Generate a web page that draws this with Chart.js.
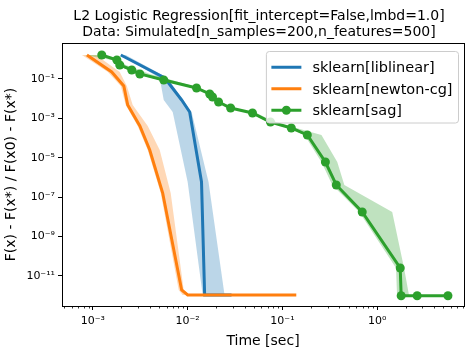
<!DOCTYPE html>
<html><head><meta charset="utf-8">
<script src="https://cdn.jsdelivr.net/npm/chart.js@4/dist/chart.umd.min.js"></script>
<style>html,body{margin:0;padding:0;background:#fff}#wrap{width:474px;height:353px;position:relative}</style>
</head><body><div id="wrap"><canvas id="c" width="474" height="353"></canvas></div>
<script>
const titleLines = ['L2 Logistic Regression[fit_intercept=False,lmbd=1.0]', 'Data: Simulated[n_samples=200,n_features=500]'];
const xAxisLabel = 'Time [sec]';
const yAxisLabel = 'F(x) - F(x*) / F(x0) - F(x*)';
const seriesNames = ['sklearn[liblinear]', 'sklearn[newton-cg]', 'sklearn[sag]'];
const seriesColors = ['#1f77b4', '#ff7f0e', '#2ca02c'];
const bandColors = ['rgba(31,119,180,0.3)', 'rgba(255,127,14,0.3)', 'rgba(44,160,44,0.3)'];

// liblinear
const liblinearTime     = [1.97e-3, 5.73e-3, 8.64e-3, 1.05e-2, 1.40e-2, 1.51e-2, 2.9e-2];
const liblinearValue    = [1.65, 0.112, 8.6e-3, 2.1e-3, 5.9e-7, 1.1e-12, 1.1e-12];
const liblinearTimeLow  = [1.97e-3, 5.07e-3, 5.59e-3, 6.95e-3, 1.0e-2, 1.44e-2, 2.2e-2];
const liblinearTimeHigh = [2.22e-3, 6.16e-3, 8.86e-3, 1.10e-2, 1.66e-2, 2.45e-2, 3.2e-2];

// newton-cg
const newtonTime     = [8.65e-4, 1.58e-3, 2.12e-3, 2.33e-3, 3.13e-3, 3.98e-3, 5.45e-3, 8.64e-3, 1.0e-2, 0.140];
const newtonValue    = [1.65, 0.226, 0.0441, 4.78e-3, 4.11e-4, 2.49e-5, 1.63e-7, 1.95e-12, 1.1e-12, 1.1e-12];
const newtonTimeLow  = [7.66e-4, 1.44e-3, 1.97e-3, 2.22e-3, 2.97e-3, 3.79e-3, 5.20e-3, 8.04e-3, 8.86e-3, 0.140];
const newtonTimeHigh = [1.08e-3, 1.92e-3, 2.28e-3, 2.63e-3, 3.79e-3, 5.07e-3, 6.62e-3, 9.08e-3, 1.05e-2, 0.140];

// sag
const sagTime     = [1.24e-3, 1.79e-3, 1.92e-3, 2.57e-3, 3.13e-3, 5.59e-3, 1.24e-2, 1.71e-2, 1.83e-2, 2.12e-2, 2.84e-2, 4.83e-2, 7.48e-2, 0.124, 0.183, 0.284, 0.370, 0.695, 1.75, 1.79, 2.64, 5.58];
const sagValue    = [1.65, 0.921, 0.514, 0.287, 0.180, 0.0889, 0.0349, 0.0173, 0.0122, 6.79e-3, 3.37e-3, 1.88e-3, 6.56e-4, 3.26e-4, 1.44e-4, 6.12e-6, 4.16e-7, 1.77e-8, 2.55e-11, 1.0e-12, 1.0e-12, 1.0e-12];
const sagTimeLow  = [8.04e-4, 1.58e-3, 1.83e-3, 2.33e-3, 2.84e-3, 5.07e-3, 1.13e-2, 1.58e-2, 1.75e-2, 2.02e-2, 2.70e-2, 4.49e-2, 6.95e-2, 0.113, 0.171, 0.258, 0.336, 0.647, 1.58, 1.62, 2.64, 5.58];
const sagTimeHigh = [1.31e-3, 1.92e-3, 2.22e-3, 3.13e-3, 3.98e-3, 6.79e-3, 1.34e-2, 1.79e-2, 1.97e-2, 2.28e-2, 3.05e-2, 5.32e-2, 8.24e-2, 0.140, 0.258, 0.379, 0.450, 1.44, 1.92, 2.17, 2.64, 5.58];

const xTickValues = [1e-3, 1e-2, 1e-1, 1];
const yTickValues = [1e-11, 1e-9, 1e-7, 1e-5, 1e-3, 1e-1];
const xRange = [4.72e-4, 8.24];
const yRange = [3.0e-13, 6.7];

const SUP = {'-':'\u207b','0':'\u2070','1':'\u00b9','2':'\u00b2','3':'\u00b3','4':'\u2074','5':'\u2075','6':'\u2076','7':'\u2077','8':'\u2078','9':'\u2079'};
function sciLabel(v) {
  const e = Math.round(Math.log10(v));
  return '10' + String(e).split('').map(c => SUP[c]).join('');
}
function linePoints(t, v) { return t.map((x, i) => ({x: x, y: v[i]})); }
function bandPolygon(lo, hi, v) {
  const pts = [];
  for (let i = 0; i < v.length; i++) pts.push({x: lo[i], y: v[i]});
  for (let i = v.length - 1; i >= 0; i--) pts.push({x: hi[i], y: v[i]});
  return pts;
}

const FONT = 'DejaVu Sans';
const series = [
  {t: liblinearTime, v: liblinearValue, lo: liblinearTimeLow, hi: liblinearTimeHigh, marker: 0},
  {t: newtonTime, v: newtonValue, lo: newtonTimeLow, hi: newtonTimeHigh, marker: 0},
  {t: sagTime, v: sagValue, lo: sagTimeLow, hi: sagTimeHigh, marker: 4.5}
];
const datasets = [];
series.forEach((s, i) => {
  datasets.push({
    label: seriesNames[i] + ' band', data: bandPolygon(s.lo, s.hi, s.v),
    borderWidth: 0, borderColor: 'rgba(0,0,0,0)', pointRadius: 0, backgroundColor: bandColors[i],
    fill: 'shape', tension: 0, order: 5 - i
  });
});
series.forEach((s, i) => {
  datasets.push({
    label: seriesNames[i], data: linePoints(s.t, s.v),
    borderWidth: 3, borderColor: seriesColors[i], backgroundColor: seriesColors[i],
    pointRadius: s.marker, pointBorderWidth: 0, pointBackgroundColor: seriesColors[i],
    fill: false, tension: 0, order: 2 - i
  });
});

const decor = {
  id: 'decor',
  afterDraw(chart) {
    const ctx = chart.ctx, a = chart.chartArea, xs = chart.scales.x;
    ctx.save();
    // minor ticks on x
    ctx.strokeStyle = '#000'; ctx.lineWidth = 0.8;
    for (let e = -4; e <= 0; e++) {
      for (let m = 2; m <= 9; m++) {
        const v = m * Math.pow(10, e);
        if (v < xs.min || v > xs.max) continue;
        const px = Math.round(xs.getPixelForValue(v)) + 0.5;
        ctx.beginPath(); ctx.moveTo(px, a.bottom); ctx.lineTo(px, a.bottom + 2.5); ctx.stroke();
      }
    }
    // frame
    ctx.lineWidth = 1; ctx.strokeStyle = '#000';
    ctx.strokeRect(Math.round(a.left) + 0.5, Math.round(a.top) + 0.5, Math.round(a.right - a.left), Math.round(a.bottom - a.top));
    // title
    ctx.fillStyle = '#000'; ctx.font = '14px "' + FONT + '"';
    ctx.textAlign = 'center'; ctx.textBaseline = 'middle';
    const cx = (a.left + a.right) / 2;
    ctx.fillText(titleLines[0], cx - 4, 16);
    ctx.fillText(titleLines[1], cx - 4, 32);
    // legend
    const fs = 14.5;
    ctx.font = fs + 'px "' + FONT + '"';
    let maxW = 0;
    seriesNames.forEach(n => { maxW = Math.max(maxW, ctx.measureText(n).width); });
    const pad = 5.5, handle = 30, gap = 11, rowH = 21.5;
    const boxW = pad * 2 + handle + gap + maxW;
    const boxH = pad * 2 + rowH * seriesNames.length - 4;
    const bx = a.right - 6 - boxW, by = a.top + 8;
    ctx.beginPath();
    if (ctx.roundRect) ctx.roundRect(bx + 0.5, by + 0.5, boxW, boxH, 3); else ctx.rect(bx + 0.5, by + 0.5, boxW, boxH);
    ctx.fillStyle = 'rgba(255,255,255,0.8)'; ctx.fill();
    ctx.strokeStyle = '#cccccc'; ctx.lineWidth = 1; ctx.stroke();
    seriesNames.forEach((n, i) => {
      const yy = by + pad + rowH / 2 + i * rowH;
      ctx.strokeStyle = seriesColors[i]; ctx.lineWidth = 3;
      ctx.beginPath(); ctx.moveTo(bx + pad, yy); ctx.lineTo(bx + pad + handle, yy); ctx.stroke();
      if (series[i].marker) {
        ctx.fillStyle = seriesColors[i];
        ctx.beginPath(); ctx.arc(bx + pad + handle / 2, yy, series[i].marker, 0, Math.PI * 2); ctx.fill();
      }
      ctx.fillStyle = '#000'; ctx.textAlign = 'left'; ctx.textBaseline = 'middle';
      ctx.fillText(n, bx + pad + handle + gap, yy + 1);
    });
    ctx.restore();
  }
};

new Chart(document.getElementById('c'), {
  type: 'line',
  data: {datasets: datasets},
  options: {
    responsive: false, animation: false, devicePixelRatio: 1,
    layout: {padding: {top: 43, right: 10, left: 0, bottom: 0}},
    plugins: {legend: {display: false}, title: {display: false}, tooltip: {enabled: false}},
    scales: {
      x: {
        type: 'logarithmic', min: xRange[0], max: xRange[1],
        afterBuildTicks: s => { s.ticks = xTickValues.map(v => ({value: v})); },
        afterFit: s => { s.height = 47; },
        ticks: {callback: v => sciLabel(v), color: '#000', font: {family: FONT, size: 11}, padding: 5, maxRotation: 0, autoSkip: false},
        grid: {display: true, drawOnChartArea: false, drawTicks: true, tickLength: 4, tickColor: '#000', tickWidth: 1},
        border: {display: true, color: '#000', width: 1},
        title: {display: true, text: xAxisLabel, color: '#000', font: {family: FONT, size: 14}, padding: {top: 0, bottom: 3}}
      },
      y: {
        type: 'logarithmic', min: yRange[0], max: yRange[1],
        afterBuildTicks: s => { s.ticks = yTickValues.map(v => ({value: v})); },
        afterFit: s => { s.width = 62; },
        ticks: {callback: v => sciLabel(v), color: '#000', font: {family: FONT, size: 11}, padding: 3, autoSkip: false},
        grid: {display: true, drawOnChartArea: false, drawTicks: true, tickLength: 4, tickColor: '#000', tickWidth: 1},
        border: {display: true, color: '#000', width: 1},
        title: {display: true, text: yAxisLabel, color: '#000', font: {family: FONT, size: 14}, padding: {top: 3, bottom: 0}}
      }
    }
  },
  plugins: [decor]
});
</script>
</body></html>
